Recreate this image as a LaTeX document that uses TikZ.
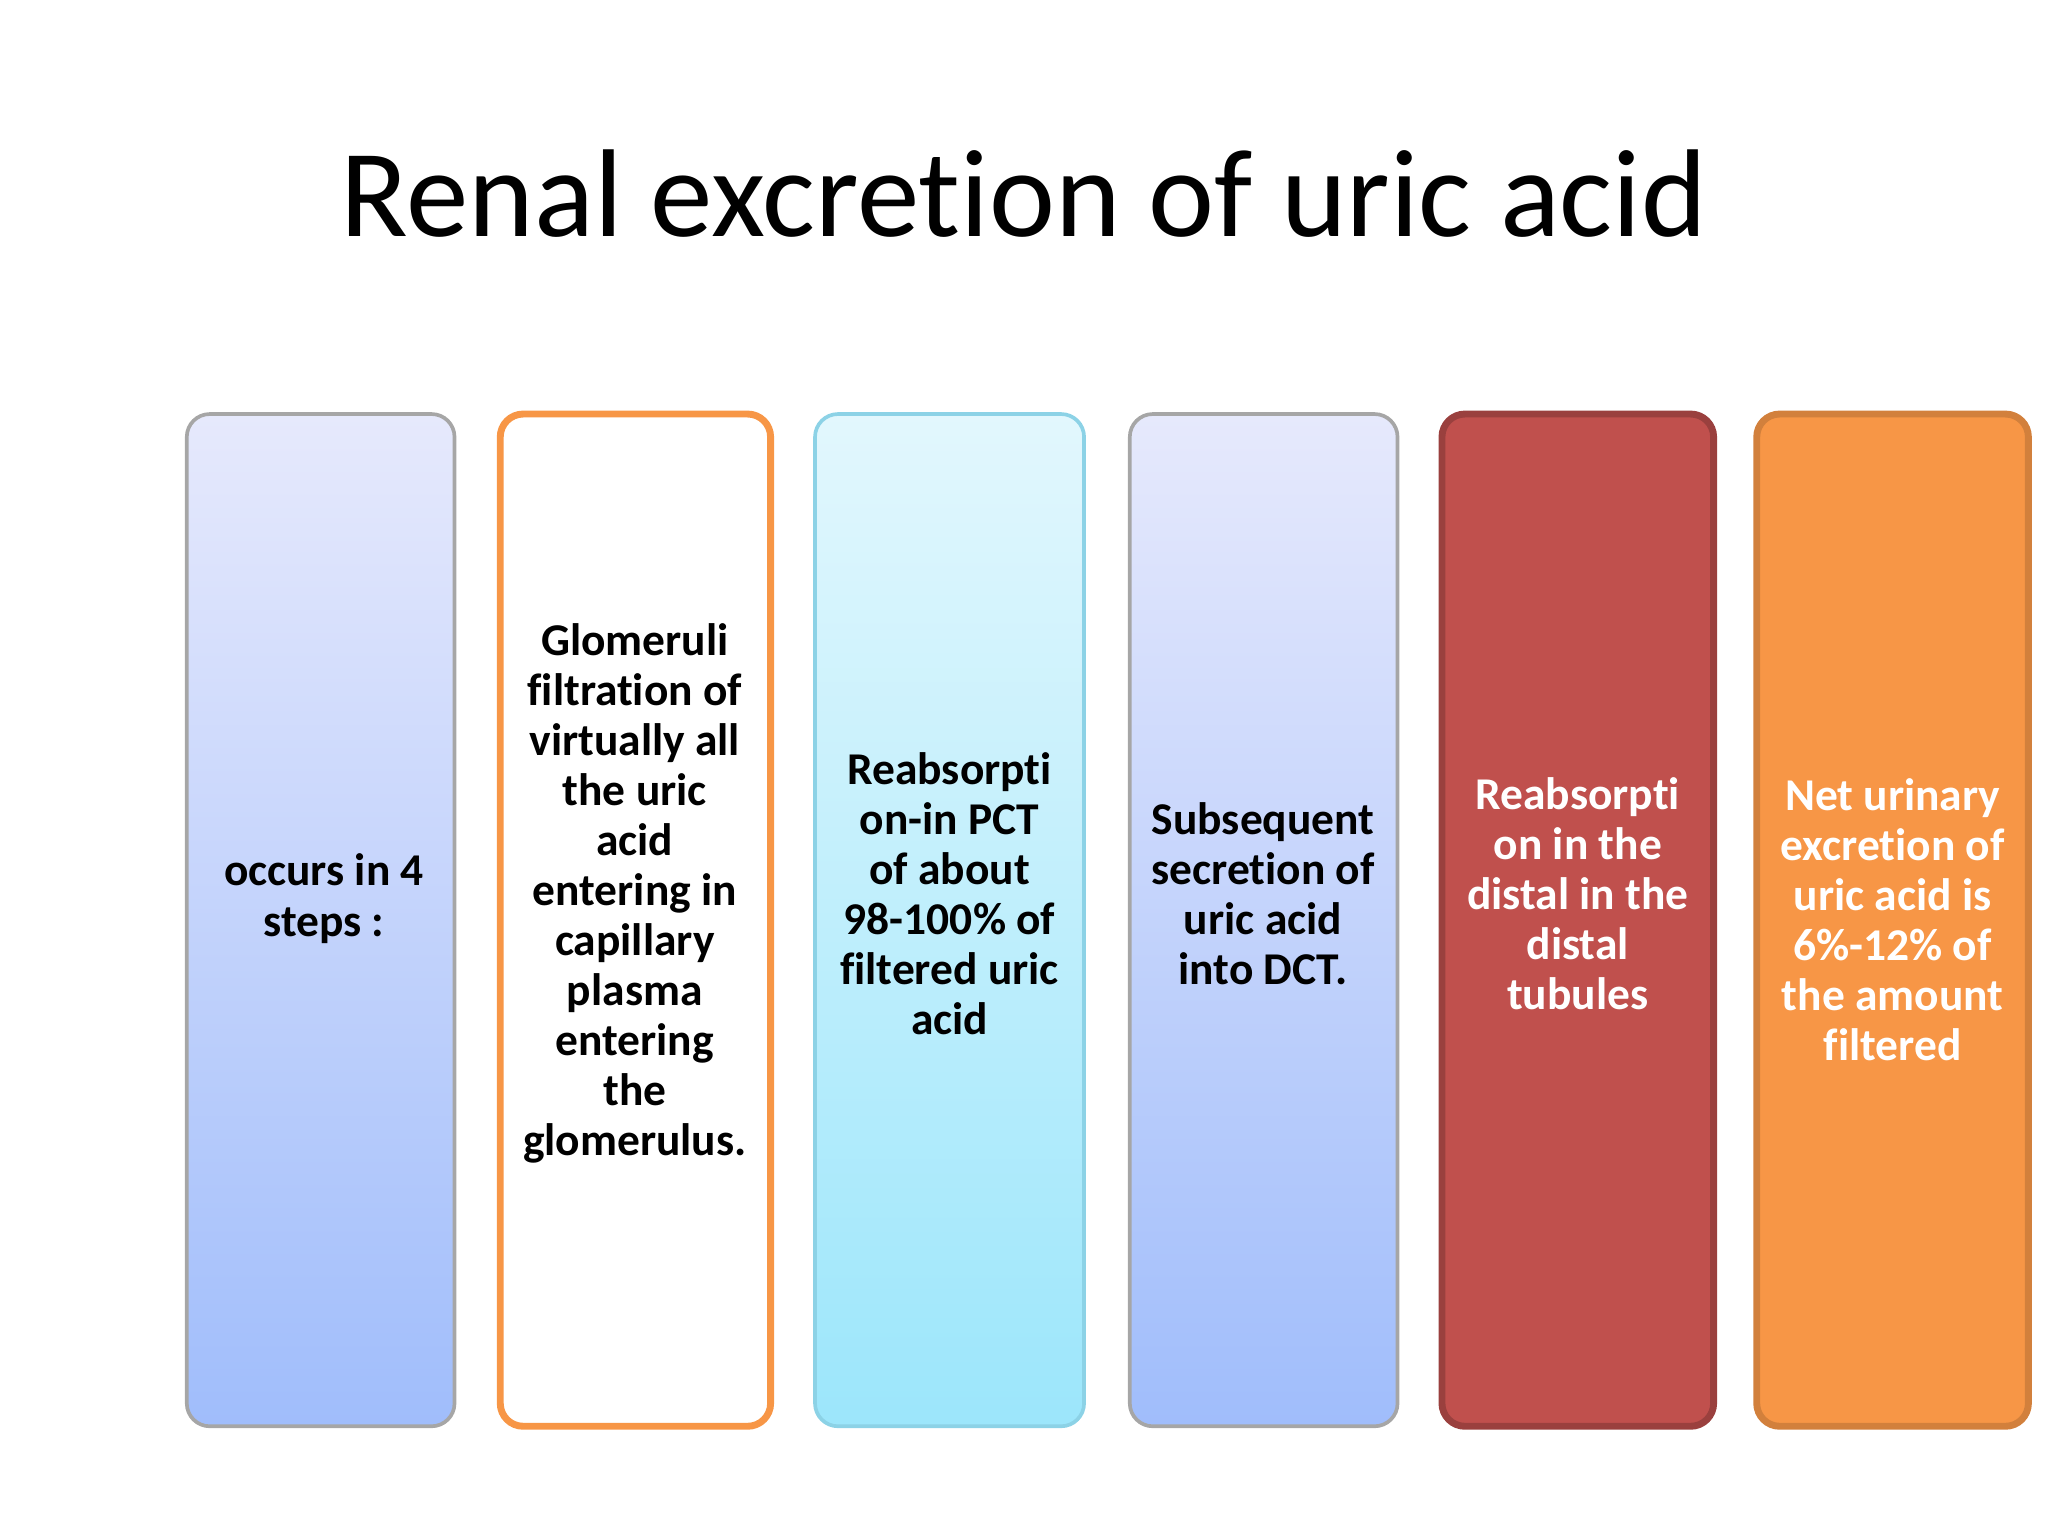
\documentclass[tikz,border=0pt]{standalone}
\usepackage{fontspec}
\setmainfont[Ligatures={NoCommon,NoRequired,NoContextual}]{Carlito}
\begin{document}
\begin{tikzpicture}[x=0.01cm,y=-0.01cm,
 col/.style={rounded corners=5pt,line width=0.8pt},
 txt/.style={font=\bfseries\fontsize{9.9pt}{10.9pt}\selectfont,align=center,inner sep=0pt}]
\useasboundingbox (0,0) rectangle (1568,1176);
\definecolor{orng}{HTML}{F79646}
\definecolor{redc}{HTML}{C0504D}
\node (title) at (784,148) {\fontsize{27.2pt}{33pt}\selectfont Renal excretion of uric acid};
\shade[col,draw=gray!70,top color={rgb,255:red,230;green,233;blue,252},bottom color={rgb,255:red,160;green,189;blue,251}] (143,317) rectangle (348,1092);
\draw[col,draw=orng,fill=white,line width=1.5pt] (383,317) rectangle (590,1092);
\shade[col,draw={rgb,255:red,140;green,210;blue,230},top color={rgb,255:red,226;green,247;blue,253},bottom color={rgb,255:red,156;green,230;blue,251}] (624,317) rectangle (830,1092);
\shade[col,draw=gray!70,top color={rgb,255:red,230;green,233;blue,252},bottom color={rgb,255:red,160;green,189;blue,251}] (865,317) rectangle (1070,1092);
\draw[col,draw=redc!80!black,fill=redc,line width=1.5pt] (1104,317) rectangle (1312,1092);
\draw[col,draw=orng!85!black,fill=orng,line width=1.5pt] (1345,317) rectangle (1553,1092);
\node[txt] (t1) at (248,688) {occurs in 4\\steps :};
\node[txt] (t2) at (486,684) {Glomeruli\\filtration of\\virtually all\\the uric\\acid\\entering in\\capillary\\plasma\\entering\\the\\glomerulus.};
\node[txt] (t3) at (727,684) {Reabsorpti\\on-in PCT\\of about\\98-100\% of\\filtered uric\\acid};
\node[txt] (t4) at (967,684) {Subsequent\\secretion of\\uric acid\\into DCT.};
\node[txt,text=white] (t5) at (1208,684) {Reabsorpti\\on in the\\distal in the\\distal\\tubules};
\node[txt,text=white] (t6) at (1449,704) {Net urinary\\excretion of\\uric acid is\\6\%-12\% of\\the amount\\filtered};
\end{tikzpicture}
\end{document}
